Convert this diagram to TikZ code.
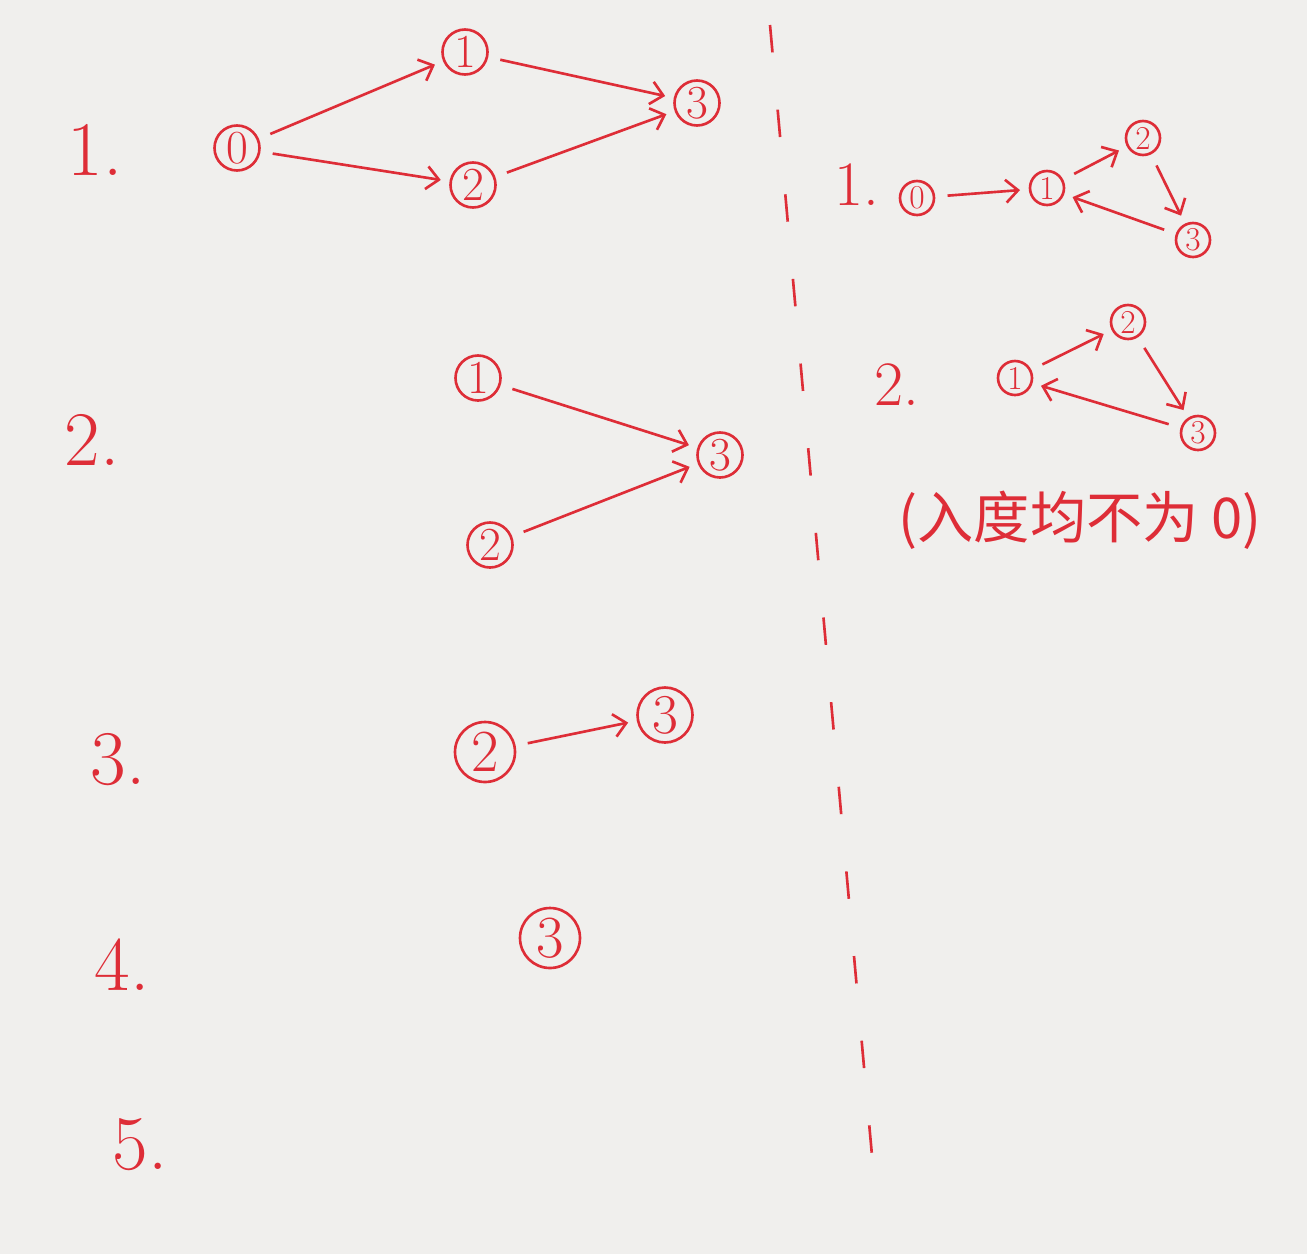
\documentclass[tikz,border=0pt]{standalone}
\usepackage{fontspec}
\newfontfamily\cjk{Noto Sans CJK SC}
\usetikzlibrary{arrows.meta}
\definecolor{pen}{RGB}{222,45,55}
\definecolor{paper}{RGB}{240,239,237}
\tikzset{
  vtx/.style={circle,draw=pen,text=pen,line width=1.5pt,inner sep=0pt,minimum size=0.9cm,font=\fontsize{27}{29}\selectfont},
  svtx/.style={vtx,minimum size=0.68cm,font=\fontsize{19}{21}\selectfont},
  num/.style={text=pen,font=\fontsize{44}{50}\selectfont},
  edge/.style={->,draw=pen,line width=1.5pt,shorten >=5pt,shorten <=7pt},
}
\begin{document}
\begin{tikzpicture}[>={Straight Barb[length=7pt,width=13pt]},x=0.02cm,y=-0.02cm]
  \fill[paper] (0,0) rectangle (1307,1254);
  \useasboundingbox (0,0) rectangle (1307,1254);
  % left column: numbering
  \foreach \n/\x/\y in {1/95/150,2/92/440,3/118/760,4/122/965,5/140/1145}
    \node[num] (n\n) at (\x,\y) {\n.};
  % 1.
  \node[vtx] (a0) at (237,148) {0};
  \node[vtx] (a1) at (465,52) {1};
  \node[vtx] (a2) at (473,185) {2};
  \node[vtx] (a3) at (697,103) {3};
  \draw[edge] (a0) -- (a1);
  \draw[edge] (a0) -- (a2);
  \draw[edge] (a1) -- (a3);
  \draw[edge] (a2) -- (a3);
  % 2.
  \node[vtx] (b1) at (478,378) {1};
  \node[vtx] (b3) at (720,455) {3};
  \node[vtx] (b2) at (490,545) {2};
  \draw[edge] (b1) -- (b3);
  \draw[edge] (b2) -- (b3);
  % 3.
  \node[vtx,minimum size=1.2cm,font=\fontsize{34}{36}\selectfont] (c2) at (485,752) {2};
  \node[vtx,minimum size=1.1cm,font=\fontsize{32}{34}\selectfont] (c3) at (665,715) {3};
  \draw[edge] (c2) -- (c3);
  % 4.
  \node[vtx,minimum size=1.2cm,font=\fontsize{34}{36}\selectfont] (d3) at (550,938) {3};
  % separator
  \coordinate (top) at (770,25);
  \coordinate (bot) at (876,1200);
  \draw[pen,line width=1.5pt,dash pattern=on 0.55cm off 1.15cm] (top) -- (bot);
  % right column
  \node[num,font=\fontsize{36}{42}\selectfont] (r1) at (857,185) {1.};
  \node[num,font=\fontsize{36}{42}\selectfont] (r2) at (897,385) {2.};
  \node[svtx] (e0) at (917,198) {0};
  \node[svtx] (e1) at (1047,188) {1};
  \node[svtx] (e2) at (1143,138) {2};
  \node[svtx] (e3) at (1193,240) {3};
  \draw[edge] (e0) -- (e1);
  \draw[edge] (e1) -- (e2);
  \draw[edge] (e2) -- (e3);
  \draw[edge] (e3) -- (e1);
  \node[svtx] (f1) at (1015,378) {1};
  \node[svtx] (f2) at (1128,322) {2};
  \node[svtx] (f3) at (1198,433) {3};
  \draw[edge] (f1) -- (f2);
  \draw[edge] (f2) -- (f3);
  \draw[edge] (f3) -- (f1);
  \node[text=pen,font=\cjk\fontsize{32}{36}\selectfont] (note) at (1080,520) {(入度均不为 0)};
\end{tikzpicture}
\end{document}
